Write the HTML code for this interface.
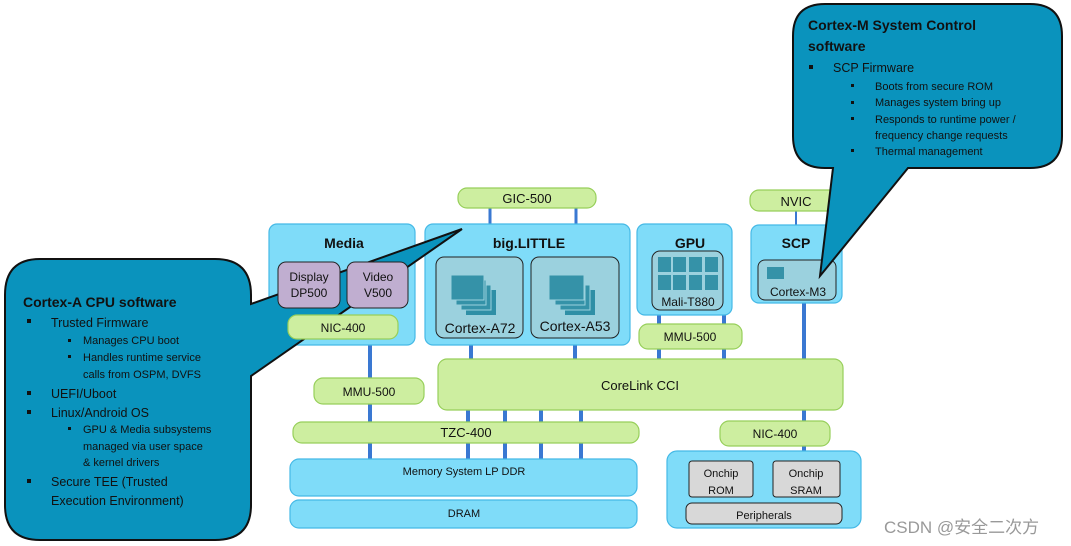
<!DOCTYPE html>
<html><head><meta charset="utf-8"><style>
html,body{margin:0;padding:0;background:#fff}
svg{display:block}
text{font-family:"Liberation Sans","Noto Sans CJK SC",sans-serif;fill:#111}
.g{fill:#cdeea0;stroke:#97cf5a;stroke-width:1.2}
.b{fill:#7fdcf9;stroke:#45b9e6;stroke-width:1.2}
.l{stroke:#3a78d2;stroke-width:4}
.c{fill:#0a93bd;stroke:#111;stroke-width:2}
.w{fill:#111}
</style></head><body>
<svg width="1071" height="546" viewBox="0 0 1071 546">
<line class="l" x1="490" y1="205" x2="490" y2="226" style="stroke-width:3"/>
<line class="l" x1="576" y1="205" x2="576" y2="226" style="stroke-width:3"/>
<line class="l" x1="796" y1="208" x2="796" y2="227" style="stroke-width:2"/>
<line class="l" x1="370" y1="338" x2="370" y2="460"/>
<line class="l" x1="471" y1="338" x2="471" y2="360"/>
<line class="l" x1="575" y1="338" x2="575" y2="360"/>
<line class="l" x1="659" y1="314" x2="659" y2="360"/>
<line class="l" x1="724" y1="314" x2="724" y2="360"/>
<line class="l" x1="804" y1="302" x2="804" y2="360"/>
<line class="l" x1="804" y1="408" x2="804" y2="452"/>
<line class="l" x1="468" y1="408" x2="468" y2="460"/>
<line class="l" x1="505" y1="408" x2="505" y2="460"/>
<line class="l" x1="541" y1="408" x2="541" y2="460"/>
<line class="l" x1="581" y1="408" x2="581" y2="460"/>

<rect class="g" x="458" y="188" width="138" height="20" rx="9"/>
<text x="527" y="203" font-size="13" text-anchor="middle">GIC-500</text>
<rect class="g" x="750" y="190" width="92" height="21" rx="9"/>
<text x="796" y="206" font-size="13" text-anchor="middle">NVIC</text>

<rect class="b" x="269" y="224" width="146" height="121" rx="8"/>
<text x="344" y="248" font-size="14" font-weight="bold" text-anchor="middle">Media</text>
<rect class="b" x="425" y="224" width="205" height="121" rx="8"/>
<text x="529" y="248" font-size="14" font-weight="bold" text-anchor="middle">big.LITTLE</text>

<path class="c" d="M40,259 H215 Q251,259 251,295 V304 L462,229 L251,376 V505 Q251,540 215,540 H40 Q5,540 5,505 V295 Q5,259 40,259 Z"/>
<text x="23" y="307" font-size="14" font-weight="bold">Cortex-A CPU software</text>
<g font-size="12.5">
<rect class="w" x="27" y="319" width="4" height="4"/><text x="51" y="327">Trusted Firmware</text>
<rect class="w" x="68" y="339" width="3" height="3"/><text x="83" y="344" font-size="11">Manages CPU boot</text>
<rect class="w" x="68" y="355" width="3" height="3"/><text x="83" y="361" font-size="11">Handles runtime service</text>
<text x="83" y="378" font-size="11">calls from OSPM, DVFS</text>
<rect class="w" x="27" y="391" width="4" height="4"/><text x="51" y="398">UEFI/Uboot</text>
<rect class="w" x="27" y="410" width="4" height="4"/><text x="51" y="417">Linux/Android OS</text>
<rect class="w" x="68" y="427" width="3" height="3"/><text x="83" y="433" font-size="11">GPU &amp; Media subsystems</text>
<text x="83" y="450" font-size="11">managed via user space</text>
<text x="83" y="466" font-size="11">&amp; kernel drivers</text>
<rect class="w" x="27" y="479" width="4" height="4"/><text x="51" y="486">Secure TEE (Trusted</text>
<text x="51" y="505">Execution Environment)</text>
</g>

<rect x="278" y="262" width="62" height="46" rx="8" fill="#c0aed0" stroke="#222" stroke-width="1"/>
<text x="309" y="281" font-size="12" text-anchor="middle">Display</text>
<text x="309" y="297" font-size="12" text-anchor="middle">DP500</text>
<rect x="347" y="262" width="61" height="46" rx="8" fill="#c0aed0" stroke="#222" stroke-width="1"/>
<text x="378" y="281" font-size="12" text-anchor="middle">Video</text>
<text x="378" y="297" font-size="12" text-anchor="middle">V500</text>
<rect class="g" x="288" y="315" width="110" height="24" rx="9"/>
<text x="343" y="332" font-size="12" text-anchor="middle">NIC-400</text>

<g>
<rect x="436" y="257" width="87" height="81" rx="8" fill="#9bd1de" stroke="#222"/>
<rect x="466" y="290" width="30" height="25" fill="#2f8fa6"/><rect x="461" y="285" width="30" height="25" fill="#3592a8" stroke="#9bd1de"/>
<rect x="456" y="280" width="30" height="25" fill="#3592a8" stroke="#9bd1de"/><rect x="451" y="275" width="33" height="25" fill="#3592a8" stroke="#9bd1de"/>
<text x="480" y="333" font-size="14" text-anchor="middle">Cortex-A72</text>
<rect x="531" y="257" width="88" height="81" rx="8" fill="#9bd1de" stroke="#222"/>
<rect x="565" y="290" width="30" height="25" fill="#2f8fa6"/><rect x="560" y="285" width="30" height="25" fill="#3592a8" stroke="#9bd1de"/>
<rect x="555" y="280" width="30" height="25" fill="#3592a8" stroke="#9bd1de"/><rect x="549" y="275" width="35" height="25" fill="#3592a8" stroke="#9bd1de"/>
<text x="575" y="331" font-size="14" text-anchor="middle">Cortex-A53</text>
</g>

<rect class="b" x="637" y="224" width="95" height="91" rx="8"/>
<text x="690" y="248" font-size="14" font-weight="bold" text-anchor="middle">GPU</text>
<rect x="652" y="251" width="71" height="59" rx="8" fill="#9bd1de" stroke="#222"/>
<g fill="#3592a8">
<rect x="658" y="257" width="13" height="15"/><rect x="673" y="257" width="13" height="15"/><rect x="689" y="257" width="13" height="15"/><rect x="705" y="257" width="13" height="15"/>
<rect x="658" y="275" width="13" height="15"/><rect x="673" y="275" width="13" height="15"/><rect x="689" y="275" width="13" height="15"/><rect x="705" y="275" width="13" height="15"/>
</g>
<text x="688" y="306" font-size="12" text-anchor="middle">Mali-T880</text>
<rect class="g" x="639" y="324" width="103" height="25" rx="9"/>
<text x="690" y="341" font-size="12" text-anchor="middle">MMU-500</text>

<rect class="b" x="751" y="225" width="91" height="78" rx="8"/>
<text x="796" y="248" font-size="14" font-weight="bold" text-anchor="middle">SCP</text>
<rect x="758" y="260" width="78" height="40" rx="7" fill="#9bd1de" stroke="#222"/>
<rect x="767" y="267" width="17" height="12" fill="#3592a8"/>
<text x="798" y="296" font-size="12" text-anchor="middle">Cortex-M3</text>

<path class="c" d="M825,4 H1030 Q1062,4 1062,36 V136 Q1062,168 1030,168 H908 L820,276 L833,168 H825 Q793,168 793,136 V36 Q793,4 825,4 Z"/>
<text x="808" y="30" font-size="14" font-weight="bold">Cortex-M System Control</text>
<text x="808" y="51" font-size="14" font-weight="bold">software</text>
<rect class="w" x="809" y="65" width="4" height="4"/><text x="833" y="72" font-size="12.5">SCP Firmware</text>
<g font-size="11">
<rect class="w" x="851" y="84" width="3" height="3"/><text x="875" y="90">Boots from secure ROM</text>
<rect class="w" x="851" y="101" width="3" height="3"/><text x="875" y="106">Manages system bring up</text>
<rect class="w" x="851" y="117" width="3" height="3"/><text x="875" y="123">Responds to runtime power /</text>
<text x="875" y="139">frequency change requests</text>
<rect class="w" x="851" y="149" width="3" height="3"/><text x="875" y="155">Thermal  management</text>
</g>

<rect class="g" x="438" y="359" width="405" height="51" rx="9"/>
<text x="640" y="390" font-size="13" text-anchor="middle">CoreLink CCI</text>
<rect class="g" x="314" y="378" width="110" height="26" rx="9"/>
<text x="369" y="396" font-size="12" text-anchor="middle">MMU-500</text>
<rect class="g" x="293" y="422" width="346" height="21" rx="9"/>
<text x="466" y="437" font-size="13" text-anchor="middle">TZC-400</text>
<rect class="b" x="290" y="459" width="347" height="37" rx="9"/>
<text x="464" y="475" font-size="11" text-anchor="middle">Memory System LP DDR</text>
<rect class="b" x="290" y="500" width="347" height="28" rx="9"/>
<text x="464" y="517" font-size="11" text-anchor="middle">DRAM</text>
<rect class="g" x="720" y="421" width="110" height="25" rx="9"/>
<text x="775" y="438" font-size="12" text-anchor="middle">NIC-400</text>
<rect class="b" x="667" y="451" width="194" height="77" rx="10"/>
<rect x="689" y="461" width="64" height="36" rx="3" fill="#d8d8d8" stroke="#222"/>
<text x="721" y="477" font-size="11" text-anchor="middle">Onchip</text>
<text x="721" y="494" font-size="11" text-anchor="middle">ROM</text>
<rect x="773" y="461" width="67" height="36" rx="3" fill="#d8d8d8" stroke="#222"/>
<text x="806" y="477" font-size="11" text-anchor="middle">Onchip</text>
<text x="806" y="494" font-size="11" text-anchor="middle">SRAM</text>
<rect x="686" y="503" width="156" height="21" rx="6" fill="#d8d8d8" stroke="#222"/>
<text x="764" y="519" font-size="11" text-anchor="middle">Peripherals</text>

<text x="884" y="533" font-size="17" style="fill:#999">CSDN @安全二次方</text>
</svg>
</body></html>
